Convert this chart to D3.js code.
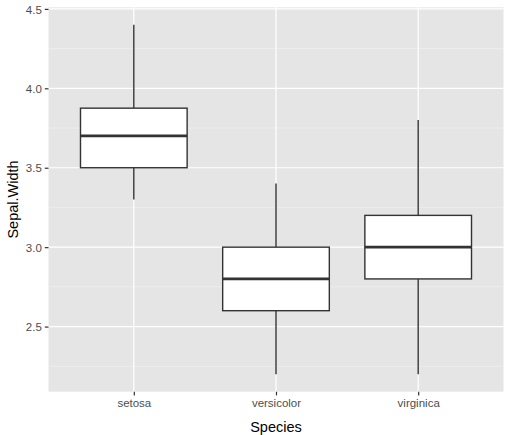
<!DOCTYPE html>
<html>
<head>
<meta charset="utf-8">
<script src="https://cdn.jsdelivr.net/npm/d3@7"></script>
<style>
  body { margin: 0; background: #fff; }
  svg { display: block; font-family: "Liberation Sans", Arial, sans-serif; }
</style>
</head>
<body>
<svg id="chart" width="512" height="435"></svg>
<script>
// data
const species = ["setosa", "versicolor", "virginica"];
const whiskerLow = [3.3, 2.2, 2.2];
const q1 = [3.5, 2.6, 2.8];
const median = [3.7, 2.8, 3.0];
const q3 = [3.875, 3.0, 3.2];
const whiskerHigh = [4.4, 3.4, 3.8];
const yTicks = [2.5, 3.0, 3.5, 4.0, 4.5];
const yMinor = [2.25, 2.75, 3.25, 3.75, 4.25];

const width = 512, height = 435;
const panel = { left: 48.5, right: 503.5, top: 7.3, bottom: 391.7 };

const svg = d3.select("#chart");

// ggplot-style expansion: 5% continuous, 0.6 units discrete
const lo = d3.min(whiskerLow), hi = d3.max(whiskerHigh);
const pad = (hi - lo) * 0.05;
const y = d3.scaleLinear()
  .domain([lo - pad, hi + pad])
  .range([panel.bottom, panel.top]);

const x = d3.scalePoint()
  .domain(species)
  .range([panel.left, panel.right])
  .padding(0.6);
const step = x.step();
const boxW = step * 0.75;

// panel background
svg.append("rect")
  .attr("x", panel.left)
  .attr("y", panel.top)
  .attr("width", panel.right - panel.left)
  .attr("height", panel.bottom - panel.top)
  .attr("fill", "#E5E5E5");

// grid lines
svg.append("g").selectAll("line")
  .data(yMinor)
  .join("line")
  .attr("x1", panel.left).attr("x2", panel.right)
  .attr("y1", d => y(d)).attr("y2", d => y(d))
  .attr("stroke", "#F2F2F2").attr("stroke-width", 0.6);

svg.append("g").selectAll("line")
  .data(yTicks)
  .join("line")
  .attr("x1", panel.left).attr("x2", panel.right)
  .attr("y1", d => y(d)).attr("y2", d => y(d))
  .attr("stroke", "#fff").attr("stroke-width", 1.2);

svg.append("g").selectAll("line")
  .data(species)
  .join("line")
  .attr("x1", d => x(d)).attr("x2", d => x(d))
  .attr("y1", panel.top).attr("y2", panel.bottom)
  .attr("stroke", "#fff").attr("stroke-width", 1.2);

// boxes
const boxes = svg.append("g").selectAll("g")
  .data(species.map((s, i) => ({ s, lo: whiskerLow[i], q1: q1[i], med: median[i], q3: q3[i], hi: whiskerHigh[i] })))
  .join("g");

boxes.append("line")
  .attr("x1", d => x(d.s)).attr("x2", d => x(d.s))
  .attr("y1", d => y(d.hi)).attr("y2", d => y(d.q3))
  .attr("stroke", "#333").attr("stroke-width", 1.4);

boxes.append("line")
  .attr("x1", d => x(d.s)).attr("x2", d => x(d.s))
  .attr("y1", d => y(d.q1)).attr("y2", d => y(d.lo))
  .attr("stroke", "#333").attr("stroke-width", 1.4);

boxes.append("rect")
  .attr("x", d => x(d.s) - boxW / 2)
  .attr("width", boxW)
  .attr("y", d => y(d.q3))
  .attr("height", d => y(d.q1) - y(d.q3))
  .attr("fill", "#fff")
  .attr("stroke", "#333").attr("stroke-width", 1.4);

boxes.append("line")
  .attr("x1", d => x(d.s) - boxW / 2).attr("x2", d => x(d.s) + boxW / 2)
  .attr("y1", d => y(d.med)).attr("y2", d => y(d.med))
  .attr("stroke", "#333").attr("stroke-width", 2.8);

// axes
const yAxis = svg.append("g")
  .attr("transform", `translate(${panel.left},0)`)
  .call(d3.axisLeft(y).tickValues(yTicks).tickFormat(d3.format(".1f")).tickSize(3.7).tickPadding(3));
yAxis.select(".domain").remove();
yAxis.selectAll("line").attr("stroke", "#333").attr("stroke-width", 1.2);
yAxis.selectAll("text").attr("fill", "#4D4D4D").style("font-size", "11.5px").attr("dy", "0.36em");

const xAxis = svg.append("g")
  .attr("transform", `translate(0,${panel.bottom})`)
  .call(d3.axisBottom(x).tickSize(3.7).tickPadding(3));
xAxis.select(".domain").remove();
xAxis.selectAll("line").attr("stroke", "#333").attr("stroke-width", 1.2);
xAxis.selectAll("text").attr("fill", "#4D4D4D").style("font-size", "11.5px").attr("dy", "0.75em");

// axis titles
svg.append("text")
  .attr("x", (panel.left + panel.right) / 2)
  .attr("y", 432)
  .attr("text-anchor", "middle")
  .style("font-size", "14.5px")
  .attr("fill", "#000")
  .text("Species");

svg.append("text")
  .attr("transform", `translate(17.5,${(panel.top + panel.bottom) / 2}) rotate(-90)`)
  .attr("text-anchor", "middle")
  .style("font-size", "14.5px")
  .attr("fill", "#000")
  .text("Sepal.Width");
</script>
</body>
</html>
